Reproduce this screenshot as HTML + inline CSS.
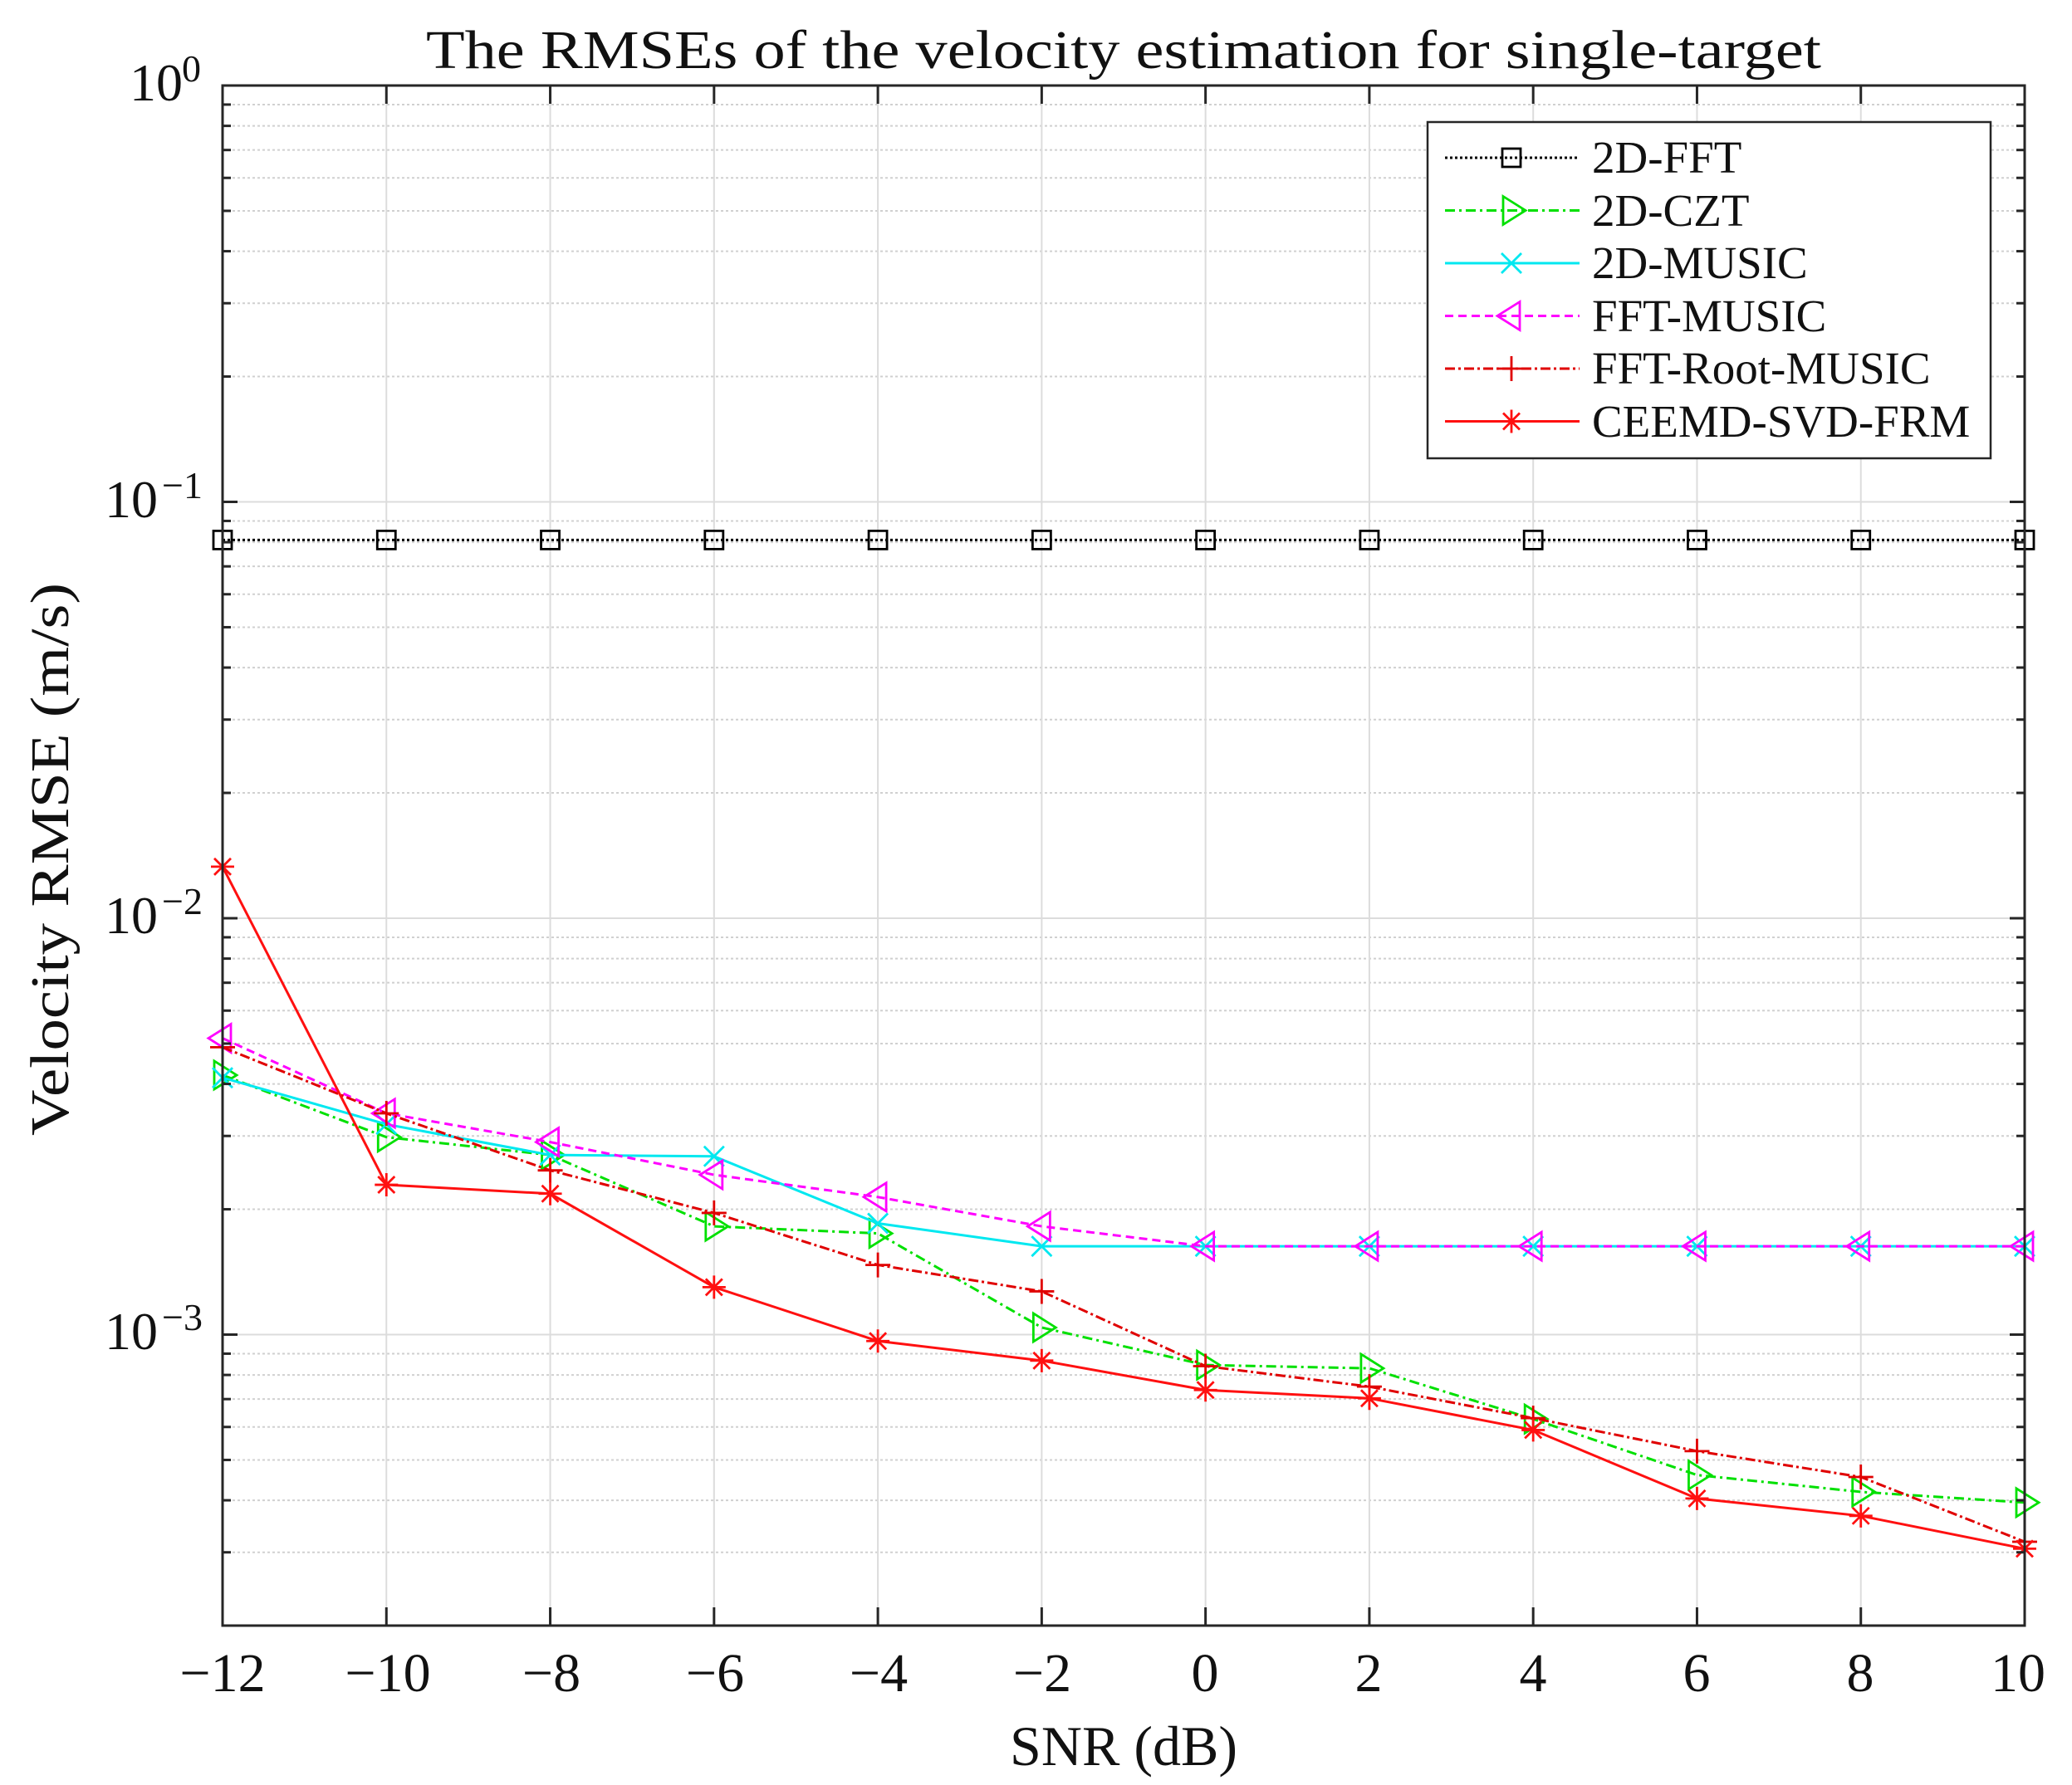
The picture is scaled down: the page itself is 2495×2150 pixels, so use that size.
<!DOCTYPE html>
<html><head><meta charset="utf-8"><style>
body{margin:0;background:#fff}
svg{display:block}
text{font-family:"Liberation Serif",serif;fill:#111}
</style></head><body>
<svg id="s" width="2495" height="2150" viewBox="0 0 2495 2150" xmlns="http://www.w3.org/2000/svg">
<rect width="2495" height="2150" fill="#fff"/>
<g id="grid"></g>
<g id="series"></g>
<rect x="268" y="103" width="2170" height="1855" fill="none" stroke="#262626" stroke-width="3"/>
<g id="ticks"></g>
<text x="1353" y="82" font-size="66" text-anchor="middle" textLength="1680" lengthAdjust="spacingAndGlyphs">The RMSEs of the velocity estimation for single-target</text>
<text x="1353" y="2126" font-size="68" text-anchor="middle">SNR (dB)</text>
<text transform="translate(82,1035) rotate(-90)" font-size="66" text-anchor="middle" textLength="666" lengthAdjust="spacingAndGlyphs">Velocity RMSE (m/s)</text>
<g font-size="66" text-anchor="middle">
<text x="268" y="2037">−12</text><text x="467" y="2037">−10</text><text x="664" y="2037">−8</text>
<text x="861" y="2037">−6</text><text x="1058" y="2037">−4</text><text x="1255" y="2037">−2</text>
<text x="1451" y="2037">0</text><text x="1648" y="2037">2</text><text x="1846" y="2037">4</text>
<text x="2043" y="2037">6</text><text x="2240" y="2037">8</text><text x="2430" y="2037">10</text>
</g>
<g font-size="64" text-anchor="end">
<text x="220" y="121">10</text><text x="242" y="98" font-size="46">0</text>
<text x="190" y="623">10</text><text x="244" y="600" font-size="46">−1</text>
<text x="190" y="1124">10</text><text x="244" y="1101" font-size="46">−2</text>
<text x="190" y="1625">10</text><text x="244" y="1602" font-size="46">−3</text>
</g>
<rect x="1719" y="147" width="678" height="405" fill="#fff" stroke="#262626" stroke-width="2.5"/>
<g id="leg"></g>
<g font-size="55">
<text x="1917" y="208">2D-FFT</text>
<text x="1917" y="272">2D-CZT</text>
<text x="1917" y="335">2D-MUSIC</text>
<text x="1917" y="399">FFT-MUSIC</text>
<text x="1917" y="462">FFT-Root-MUSIC</text>
<text x="1917" y="526">CEEMD-SVD-FRM</text>
</g>
</svg>
<script>
const NS="http://www.w3.org/2000/svg";
function el(p,t,a){const e=document.createElementNS(NS,t);for(const k in a)e.setAttribute(k,a[k]);document.getElementById(p).appendChild(e);return e;}
const X=v=>268+(v+12)*2170/22;
const Y=v=>103-Math.log10(v)*501.5;
for(let d=0;d>=-3;d--){
  for(let m=1;m<=9;m++){
    const v=m*Math.pow(10,d-1); const y=Y(v);
    if(y<103||y>1958) continue;
    if(m==1) el('grid','line',{x1:268,x2:2438,y1:y,y2:y,stroke:'#dcdcdc','stroke-width':2});
    else el('grid','line',{x1:268,x2:2438,y1:y,y2:y,stroke:'#d0d0d0','stroke-width':2,'stroke-dasharray':'3 3'});
    const L=m==1?18:10;
    el('ticks','line',{x1:268,x2:268+L,y1:y,y2:y,stroke:'#262626','stroke-width':3});
    el('ticks','line',{x1:2438,x2:2438-L,y1:y,y2:y,stroke:'#262626','stroke-width':3});
  }
}
for(let s=-10;s<10;s+=2){const x=X(s);
  el('grid','line',{x1:x,x2:x,y1:103,y2:1958,stroke:'#dcdcdc','stroke-width':2});
  el('ticks','line',{x1:x,x2:x,y1:1958,y2:1936,stroke:'#262626','stroke-width':3});
  el('ticks','line',{x1:x,x2:x,y1:103,y2:125,stroke:'#262626','stroke-width':3});
}
const snr=[-12,-10,-8,-6,-4,-2,0,2,4,6,8,10];
const S=[
 {c:'#000',d:'3 3',m:'sq',v:Array(12).fill(0.081)},
 {c:'#00e000',d:'12 5 3 5',m:'tr',v:[4.2e-3,2.98e-3,2.7e-3,1.82e-3,1.75e-3,1.04e-3,8.45e-4,8.3e-4,6.27e-4,4.6e-4,4.19e-4,3.95e-4]},
 {c:'#00e8f0',d:'',m:'x',v:[4.14e-3,3.2e-3,2.7e-3,2.68e-3,1.85e-3,1.63e-3,1.63e-3,1.63e-3,1.63e-3,1.63e-3,1.63e-3,1.63e-3]},
 {c:'#ff00ff',d:'10 6',m:'tl',v:[5.15e-3,3.4e-3,2.9e-3,2.42e-3,2.14e-3,1.82e-3,1.63e-3,1.63e-3,1.63e-3,1.63e-3,1.63e-3,1.63e-3]},
 {c:'#e00000',d:'12 4 3 4',m:'plus',v:[4.9e-3,3.4e-3,2.48e-3,1.96e-3,1.47e-3,1.27e-3,8.4e-4,7.5e-4,6.3e-4,5.25e-4,4.55e-4,3.18e-4]},
 {c:'#ff1010',d:'',m:'star',v:[1.33e-2,2.29e-3,2.18e-3,1.3e-3,9.65e-4,8.66e-4,7.36e-4,7.03e-4,5.9e-4,4.04e-4,3.67e-4,3.06e-4]}
];
function mark(g,t,x,y,c){
  const a={fill:'none',stroke:c,'stroke-width':2.8};
  if(t=='sq') el(g,'rect',Object.assign({x:x-11,y:y-11,width:22,height:22},a));
  if(t=='tr') el(g,'polygon',Object.assign({points:`${x-10},${y-17} ${x+17},${y} ${x-10},${y+17}`},a));
  if(t=='tl') el(g,'polygon',Object.assign({points:`${x+10},${y-17} ${x-17},${y} ${x+10},${y+17}`},a));
  if(t=='x'){el(g,'path',Object.assign({d:`M${x-12} ${y-12}L${x+12} ${y+12}M${x-12} ${y+12}L${x+12} ${y-12}`},a));}
  if(t=='plus'){el(g,'path',Object.assign({d:`M${x-15} ${y}L${x+15} ${y}M${x} ${y-15}L${x} ${y+15}`},a));}
  if(t=='star'){el(g,'path',Object.assign({d:`M${x-14} ${y}L${x+14} ${y}M${x} ${y-14}L${x} ${y+14}M${x-10} ${y-10}L${x+10} ${y+10}M${x-10} ${y+10}L${x+10} ${y-10}`},a));}
}
S.forEach((s,i)=>{
  const pts=snr.map((n,j)=>X(n)+','+Y(s.v[j])).join(' ');
  const a={points:pts,fill:'none',stroke:s.c,'stroke-width':3};
  if(s.d)a['stroke-dasharray']=s.d;
  el('series','polyline',a);
  snr.forEach((n,j)=>mark('series',s.m,X(n),Y(s.v[j]),s.c));
  const ly=190+i*63.5;
  const b={x1:1740,x2:1902,y1:ly,y2:ly,stroke:s.c,'stroke-width':3};
  if(s.d)b['stroke-dasharray']=s.d;
  el('leg','line',b);
  mark('leg',s.m,1820,ly,s.c);
});
</script>
</body></html>
